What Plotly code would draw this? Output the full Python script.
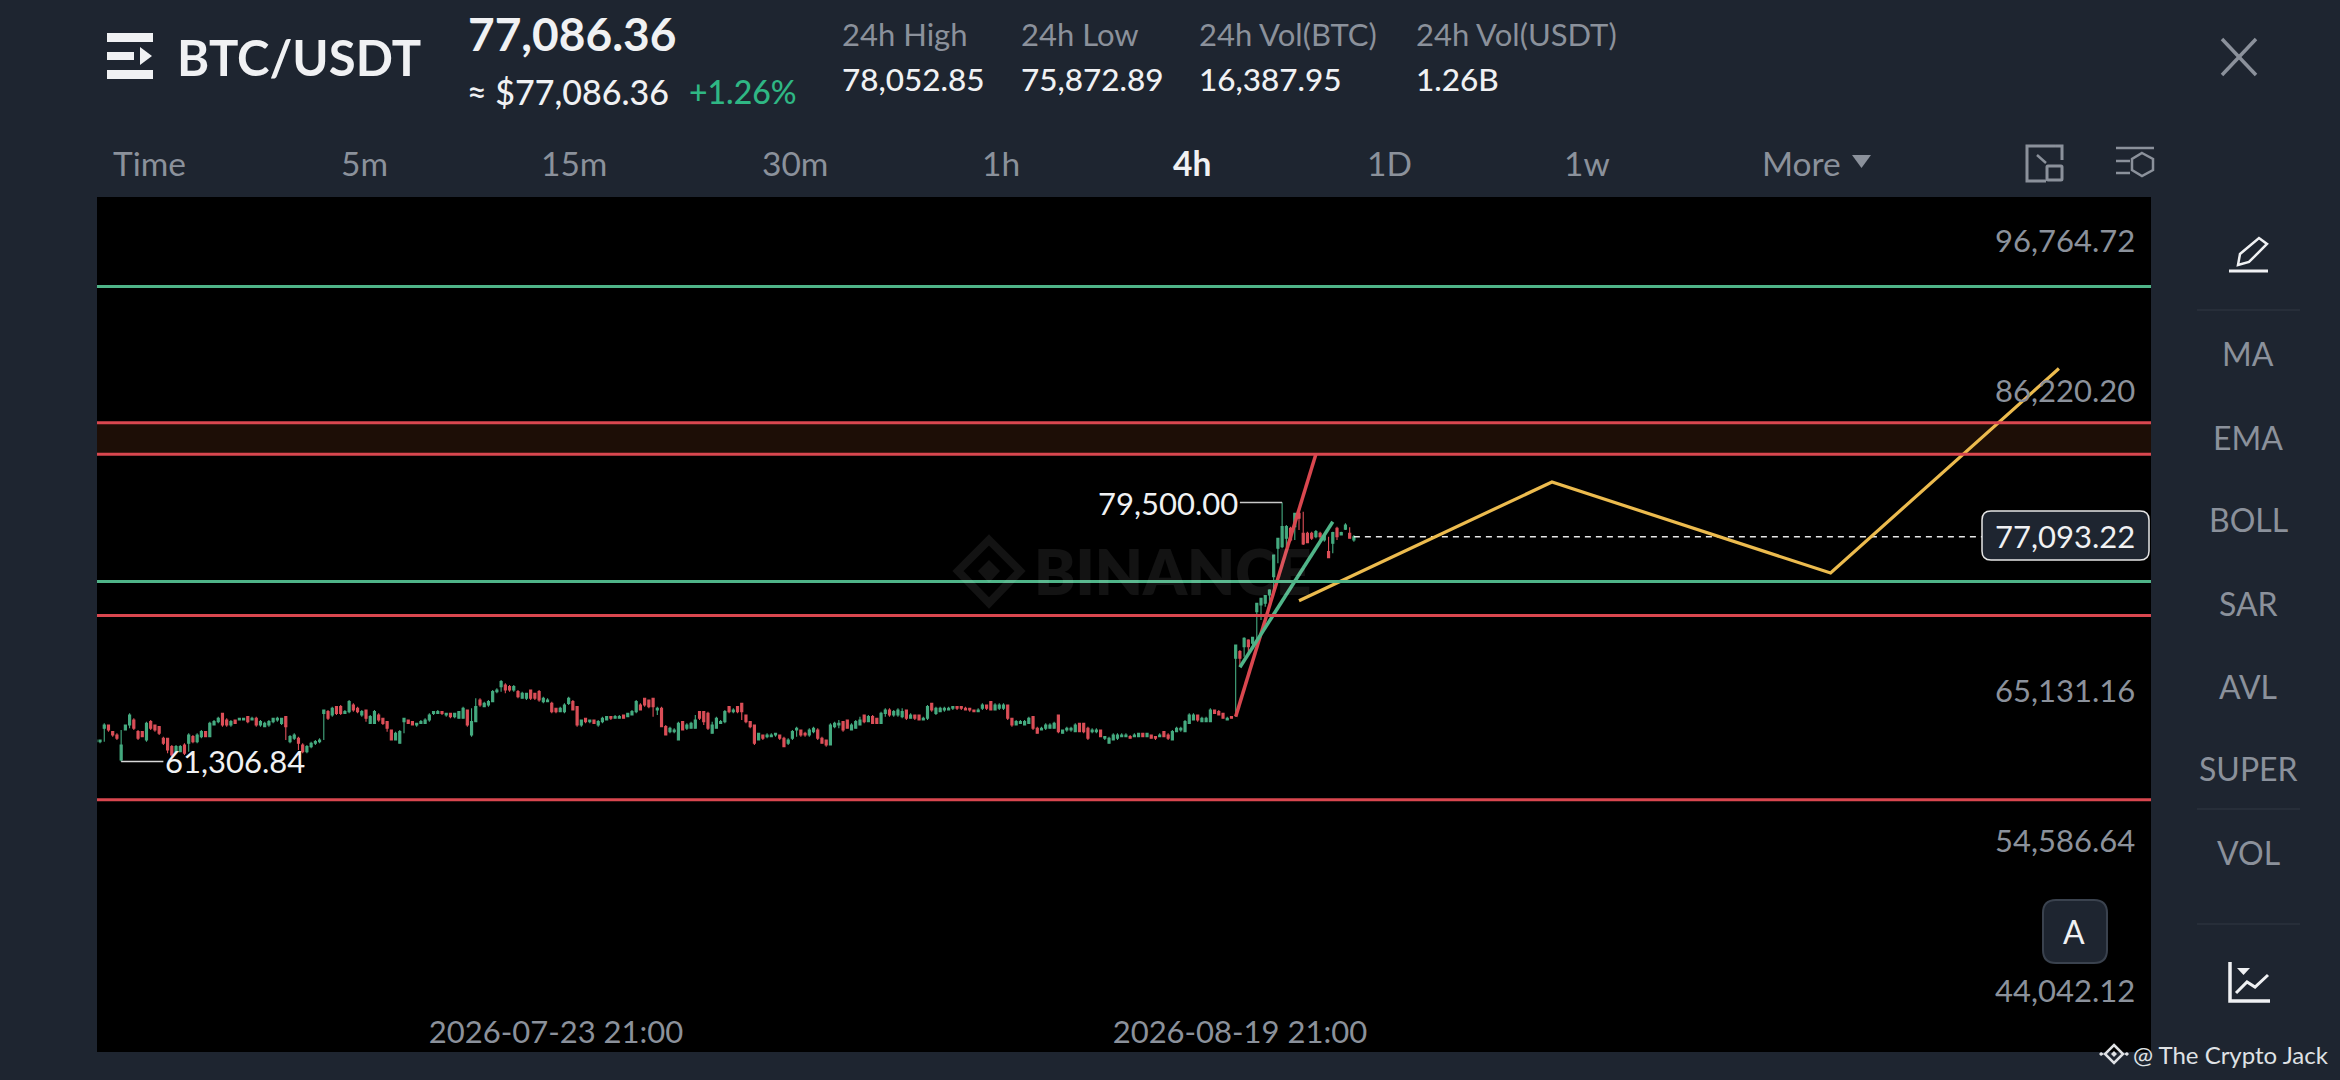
import pandas as pd
import plotly.graph_objects as go

W, H = 2340, 1080
BG = "#1e2530"
GREY = "#8b919b"
WHITE = "#f0f1f3"
UP = "#45ab80"
DOWN = "#dc4f58"
FONT = "Lato"

highs = [62811,62811,63982,63865,63397,63280,63514,63865,64685,64334,
63514,63397,64100,64217,63865,63748,63045,62928,62460,62460,
62460,62577,63280,63162,63280,63514,63397,64100,64217,64451,
64685,64334,64217,64217,64334,64334,64451,64451,64451,64217,
64100,64217,64334,64451,64334,64451,63162,63280,63045,62577,
62460,62694,62811,62928,64920,64920,65154,65154,65271,64920,
65622,65388,65154,64920,64920,64568,64920,64685,64334,64100,
63514,63397,63514,64334,64217,64100,63982,64217,64334,64685,
64802,64920,64802,64685,64685,64685,64802,65154,64920,65037,
65740,65740,65505,65622,66325,66443,67028,66794,66677,66677,
66325,66208,66091,66325,66091,66325,65857,65740,65505,65037,
65154,65388,65857,65622,65154,64217,64334,64217,64217,64217,64451,64451,
64451,64568,64568,64568,64685,64920,65622,65388,65740,65622,
65740,65154,65154,63865,63748,63631,64100,64100,63982,64100,
64568,64802,64802,64802,64100,64451,64217,64920,65154,65037,
65154,65388,64568,64100,63865,63280,63162,63280,63280,63280,
63162,63045,62928,63514,63748,63514,63397,63631,63748,63631,
63045,62811,63982,64100,64217,64100,64217,63982,64217,64451,
64568,64568,64568,64334,64802,65037,65037,64920,65037,65037,
64920,64685,64568,64568,64451,65271,65388,65154,65154,65154,
65154,65154,65154,65154,65154,65037,64920,65037,65388,65271,
65505,65388,65388,65388,65271,64334,64217,64217,64217,64451,
64451,63748,63748,63982,63982,64100,64568,63514,63748,63748,
63982,63982,63982,63748,63631,63631,63514,63045,63045,63280,
63280,63280,63280,63162,63280,63280,63280,63280,63162,63045,
63280,63397,63280,63514,63748,63748,64217,64685,64685,64568,
64451,64451,65037,64920,64920,64685,64451,64451,
69491,69139,70030,69889,70030,72466,72771,72958,73403,75817,
76988,79500,77925,77808,78792,78863,78863,77457,77457,77574,
77457,77223,77105,77457,77808,77457,78043,77762,77223]

lows = [62577,62577,62694,63397,63045,62811,61306.84,63514,63631,63514,
62811,63045,62694,63514,63397,63162,62460,61874,61640,61991,
61991,61757,61991,62577,62577,62928,63045,63045,63865,63982,
63748,63748,63748,63982,64217,64217,63982,64217,63748,63748,
63748,63748,63982,64100,63865,62811,62577,62811,62108,61874,
61874,62225,62460,62577,62811,64217,64451,64568,64568,64685,
64685,64802,64685,64451,64100,63982,63982,64100,63865,63397,
62811,62811,62577,63280,63982,63865,63748,63982,63982,64100,
64568,64685,64568,64451,64334,64334,64334,64334,63748,63045,
64100,65154,65154,65154,65505,66091,66208,66091,66208,66208,
65740,65740,65622,65622,65622,65505,65388,65505,64685,64685,
64802,64685,65271,64920,63748,63748,63982,63982,63982,63748,63982,64217,
64217,64334,64334,64334,64451,64568,64685,64920,65154,65037,
64451,64568,63748,63162,63280,63280,62811,63514,63514,63631,
63631,64217,63865,63514,63280,63631,63982,63982,64685,64685,
64685,64217,63982,63631,62460,62811,62811,62928,63045,63045,
62811,62342,62460,62811,63045,63045,63045,63045,63280,62811,
62577,62342,62460,63631,63631,63397,63631,63514,63631,63865,
63982,64100,63982,63982,63982,64451,64451,64451,64451,64334,
64217,64334,64217,64217,64217,64217,64802,64568,64802,64802,
64920,64920,64920,64920,64920,64802,64802,64802,64920,64920,
64920,64920,64920,64920,64217,63748,63865,63982,63865,63982,
63514,63280,63514,63514,63631,63631,63280,63280,63397,63397,
63397,63397,63280,62811,63280,63280,63045,62811,62577,62811,
62811,63045,63045,62928,63045,63045,63045,63045,62928,62811,
63045,63045,62811,62811,63397,63397,63397,63982,64217,64100,
64100,64100,64100,64685,64568,64334,64217,64334,
64453,67968,68670,68905,69256,69374,71248,72185,72536,73122,
75231,76285,76402,76754,76871,77574,76520,76637,76871,76988,
76871,76754,75583,75934,76871,77223,77574,76988,76754]

opens = [62694,62694,63631,63865,63397,63162,61405,63514,63865,64217,
63397,63397,62811,64100,63865,63748,62928,62928,62342,61991,
61991,62460,62577,63045,62694,63045,63397,63045,63865,64100,
64685,64217,63865,64217,64217,64217,64451,64217,64334,63865,
63748,63865,64100,64217,63982,64451,62694,62928,62928,62460,
61991,62342,62577,62694,64685,64802,64568,65154,65154,64685,
64802,65271,65037,64568,64920,63982,63982,64568,64334,64100,
63514,62811,62577,64100,64217,64100,63865,63982,63982,64217,
64685,64685,64802,64568,64685,64451,64334,64334,64920,63162,
64100,65622,65154,65271,65505,66208,66560,66677,66560,66325,
66208,65740,65740,66325,66091,66208,65505,65505,65388,65037,
64802,64802,65388,65505,65154,63865,64334,64100,64217,63865,64100,64217,
64451,64334,64334,64568,64451,64568,64802,65271,65740,65622,
65740,64920,65037,63748,63397,63397,62811,64100,63631,63631,
63631,64802,64802,64685,63280,63631,63982,64100,65154,64802,
65154,65388,64568,64100,63865,62811,63162,63045,63045,63162,
63162,62928,62577,62928,63514,63514,63280,63162,63397,63514,
62928,62811,62460,63748,63865,64100,64217,63514,63631,63865,
64568,64100,64451,64334,63982,64685,64920,64568,64568,64451,
64920,64334,64568,64568,64217,64334,65388,64685,64802,64920,
64920,65037,65154,65154,65037,65037,64920,64802,65037,65271,
65505,64920,65037,65037,65271,64334,63865,63982,63865,63982,
64451,63631,63514,63631,63631,63631,64568,63280,63514,63514,
63397,63982,63982,63631,63397,63397,63514,62928,62577,62811,
62928,63045,63045,63045,63045,63045,63280,63045,63162,63045,
63045,63397,63162,62811,63397,63514,63397,63982,64217,64568,
64100,64100,64100,64920,64802,64685,64217,64451,
68553,69022,69374,69842,69608,71834,72302,72420,73005,74294,
76285,76402,76988,77691,77808,78745,77340,77340,77340,77105,
77340,76871,76051,76637,77691,77223,77621,77340,76871]

closes = [62811,62811,63865,63514,63162,62928,62460,63865,64568,63631,
62928,63045,63982,63631,63514,63280,62577,62108,61757,62342,
62342,61874,63162,62694,63162,63397,63045,63982,64100,64334,
63865,63865,64100,63982,64334,64334,64100,64334,63865,64100,
63982,64100,64334,64334,64334,63748,63045,63162,62577,61991,
62342,62577,62694,62811,64920,64334,65037,64685,64685,64802,
65505,64920,64802,64802,64334,64451,64802,64217,63982,63631,
62811,63280,63397,64334,63982,63865,63982,64100,64217,64568,
64802,64802,64685,64685,64451,64685,64802,65037,63865,64100,
65154,65271,65388,65505,66208,66325,66911,66325,66325,66560,
65857,66091,66091,65740,65740,65622,65740,65622,64802,64802,
65037,65271,65740,64920,63865,64217,64100,64217,63982,64100,64334,64451,
64334,64451,64451,64334,64685,64802,65505,64920,65271,65154,
65154,65037,63748,63162,63631,63514,63982,63514,63865,63982,
64217,64334,64100,63631,63865,64334,64100,64802,64802,64920,
64802,64802,64100,63748,62577,63280,62928,63162,63162,63280,
62928,62342,62811,63397,63631,63162,63162,63514,63631,62928,
62577,62460,63865,63982,63982,63514,63631,63865,64100,64217,
64100,64451,63982,63982,64685,64920,64568,64802,64920,64802,
64334,64568,64334,64217,64334,65154,64920,65037,65037,65037,
65037,65154,65037,65037,64920,64920,64802,64920,65271,65037,
64920,65271,65271,65271,64334,63865,64100,64100,64100,64334,
63631,63280,63631,63865,63865,63982,63397,63514,63631,63631,
63865,63397,63397,62928,63514,63514,63045,63045,62928,63162,
63162,63162,63162,62928,63162,63280,63045,63280,62928,62928,
63162,63045,62928,63397,63631,63631,64100,64568,64568,64217,
64334,64334,64920,64685,64568,64334,64334,64334,
69491,68553,69959,69374,70030,72420,72771,72958,73357,75817,
76988,77808,77808,76871,78745,78394,76590,76684,76988,77457,
77105,77105,75630,77387,77105,77387,77925,76988,77093.22]

BREAKOUT_INDEX = 270
BREAKOUT_DATE = "2026-08-19 17:00"
dates = pd.date_range(pd.Timestamp(BREAKOUT_DATE) - pd.Timedelta(hours=4 * BREAKOUT_INDEX),
                      periods=len(closes), freq="4h")

axis_dates = ["2026-07-23 21:00", "2026-08-19 21:00"]
axis_date_labels = ["2026-07-23 21:00", "2026-08-19 21:00"]
price_ticks = [96764.72, 86220.20, 65131.16, 54586.64, 44042.12]
price_labels = ["96,764.72", "86,220.20", "65,131.16", "54,586.64", "44,042.12"]

green_levels = [94698, 73953]
red_levels = [85116, 82901, 71562, 58613]
red_line_x = ["2026-08-19 17:00", "2026-08-22 21:00"]
red_line_y = [64453, 82901]
green_line_x = ["2026-08-19 21:00", "2026-08-23 13:00"]
green_line_y = [67920, 78156]
forecast_x = ["2026-08-22 05:00", "2026-09-01 04:40", "2026-09-12 04:40", "2026-09-21 05:00"]
forecast_y = [72602, 80947, 74550, 88926]
LAST_PRICE = 77093.22
last_line_x = [dates[-1], "2026-09-18 04:00"]
PEAK = 79500.00
TROUGH = 61306.84


def X(px):
    return px / W


def Y(py):
    return 1 - py / H


fig = go.Figure()
fig.add_trace(go.Candlestick(
    x=dates, open=opens, high=highs, low=lows, close=closes,
    increasing=dict(line=dict(color=UP, width=1.1), fillcolor=UP),
    decreasing=dict(line=dict(color=DOWN, width=1.1), fillcolor=DOWN),
    whiskerwidth=0, showlegend=False, hoverinfo="skip"))

fig.add_trace(go.Scatter(x=last_line_x, y=[LAST_PRICE, LAST_PRICE], mode="lines", showlegend=False,
                         hoverinfo="skip", line=dict(color="#e8e8e8", width=1.5, dash="6px,5px")))
for xs, ys, col, w in [
    (red_line_x, red_line_y, "#d9474f", 3.5),
    (green_line_x, green_line_y, "#4fb488", 3.5),
    (forecast_x, forecast_y, "#ecbb4e", 3.2),
    ([dates[281], "2026-08-19 21:00"], [PEAK, PEAK], "#c8c8c8", 1.5),
    ([dates[6], dates[16]], [TROUGH, TROUGH], "#d8d8d8", 1.5),
]:
    fig.add_trace(go.Scatter(x=xs, y=ys, mode="lines", showlegend=False, hoverinfo="skip",
                             line=dict(color=col, width=w)))

shapes = []
shapes.append(dict(type="rect", xref="x domain", yref="y", x0=0, x1=1, y0=red_levels[1], y1=red_levels[0],
                   fillcolor="#1d0e06", line_width=0, layer="below"))
for v in green_levels:
    shapes.append(dict(type="line", xref="x domain", yref="y", x0=0, x1=1, y0=v, y1=v,
                       line=dict(color="#4fb488", width=3)))
for v in red_levels:
    shapes.append(dict(type="line", xref="x domain", yref="y", x0=0, x1=1, y0=v, y1=v,
                       line=dict(color="#d9474f", width=3)))


def rect(x0, y0, x1, y1, col):
    shapes.append(dict(type="rect", xref="paper", yref="paper", x0=X(x0), x1=X(x1), y0=Y(y0), y1=Y(y1),
                       fillcolor=col, line_width=0))


def poly(pts, col=None, fill=None, width=3, close=False):
    p = "M " + " L ".join(f"{X(a):.5f} {Y(b):.5f}" for a, b in pts) + (" Z" if close else "")
    shapes.append(dict(type="path", xref="paper", yref="paper", path=p, fillcolor=fill,
                       line=dict(color=col, width=width) if col else dict(width=0)))


def rrect(x0, y0, x1, y1, r, fill, border, width=1.5):
    rx, ry = r / W, r / H
    a, b, c, d = X(x0), X(x1), Y(y0), Y(y1)
    p = (f"M {a+rx:.5f} {c:.5f} L {b-rx:.5f} {c:.5f} Q {b:.5f} {c:.5f} {b:.5f} {c-ry:.5f} "
         f"L {b:.5f} {d+ry:.5f} Q {b:.5f} {d:.5f} {b-rx:.5f} {d:.5f} L {a+rx:.5f} {d:.5f} "
         f"Q {a:.5f} {d:.5f} {a:.5f} {d+ry:.5f} L {a:.5f} {c-ry:.5f} Q {a:.5f} {c:.5f} {a+rx:.5f} {c:.5f} Z")
    shapes.append(dict(type="path", xref="paper", yref="paper", path=p, fillcolor=fill,
                       line=dict(color=border, width=width)))


# header menu icon
rect(107, 33, 153, 42, WHITE)
rect(107, 52, 134, 60, WHITE)
rect(107, 70, 153, 79, WHITE)
poly([(140, 47), (152, 56), (140, 65)], fill=WHITE, close=True)
# close icon
poly([(2222, 39), (2256, 75)], col=GREY, width=3.5)
poly([(2256, 39), (2222, 75)], col=GREY, width=3.5)
# toolbar triangle
poly([(1852, 155), (1871, 155), (1861.5, 168)], fill=GREY, close=True)
# resize icon
poly([(2056, 146), (2027, 146), (2027, 181), (2046, 181)], col=GREY, width=3)
poly([(2056, 146), (2062, 146), (2062, 160)], col=GREY, width=3)
rrect(2047, 166, 2062, 180, 1, None, GREY, 3)
poly([(2037, 155), (2046, 163)], col=GREY, width=2.5)
# settings icon
poly([(2116, 148), (2154, 148)], col=GREY, width=2.5)
poly([(2116, 161), (2130, 161)], col=GREY, width=2.5)
poly([(2116, 173), (2130, 173)], col=GREY, width=2.5)
poly([(2142, 153), (2153, 159), (2153, 170), (2142, 176), (2132, 170), (2132, 159)], col=GREY, width=2.5, close=True)
# side separators
for yy in (310, 809, 924):
    poly([(2197, yy), (2300, yy)], col="#2b323d", width=1.5)
# pen icon
poly([(2238, 265), (2240, 254), (2259, 238), (2267, 244), (2249, 262)], col=WHITE, width=2.5, close=True)
poly([(2229, 271), (2268, 271)], col=WHITE, width=3)
# chart icon
poly([(2230, 962), (2230, 1001), (2270, 1001)], col=WHITE, width=3.5)
poly([(2236, 993), (2247, 982), (2255, 987), (2268, 975)], col=WHITE, width=3)
poly([(2237, 968), (2250, 968), (2243.5, 975)], fill=WHITE, close=True)
# last-price box, A button
rrect(1982, 511, 2149, 560, 9, "#1e2530", "#e6e6e6", 1.5)
rrect(2043, 900, 2107, 963, 13, "#1e2530", "#3a424e", 2)
# watermark diamonds
wm = "rgba(255,255,255,0.075)"
poly([(989, 540), (1020, 571), (989, 603), (958, 571)], col=wm, width=8, close=True)
poly([(989, 560), (1000, 571), (989, 583), (978, 571)], fill=wm, close=True)
# footer diamond
poly([(2114, 1045), (2123, 1054), (2114, 1063), (2105, 1054)], col="#dfe1e4", width=2.5, close=True)
poly([(2114, 1051), (2117, 1054), (2114, 1057), (2111, 1054)], fill="#dfe1e4", close=True)
poly([(2101, 1052), (2104, 1054), (2101, 1056), (2099, 1054)], fill="#dfe1e4", close=True)
poly([(2127, 1052), (2129, 1054), (2127, 1056), (2124, 1054)], fill="#dfe1e4", close=True)

anns = []


def txt(x, y, text, size, color=GREY, anchor="left", weight=None, family=FONT):
    font = dict(family=family, size=size, color=color)
    if weight:
        font["weight"] = weight
    anns.append(dict(xref="paper", yref="paper", x=X(x), y=Y(y), text=text, showarrow=False,
                     xanchor=anchor, yanchor="middle", font=font))


txt(175, 57, "BTC/USDT", 49, WHITE, weight=700)
txt(466, 34, "77,086.36", 46, WHITE, weight=700)
txt(465, 91, "≈ $77,086.36", 34, WHITE, weight=500)
txt(687, 91, "+1.26%", 32, "#2fb784", weight=500)
for x, head, val in [(840, "24h High", "78,052.85"), (1019, "24h Low", "75,872.89"),
                     (1197, "24h Vol(BTC)", "16,387.95"), (1414, "24h Vol(USDT)", "1.26B")]:
    txt(x, 34, head, 31, GREY)
    txt(x, 79, val, 31.5, WHITE, weight=500)
for x, lab in [(149, "Time"), (364, "5m"), (574, "15m"), (795, "30m"), (1001, "1h"),
               (1389, "1D"), (1587, "1w")]:
    txt(x, 163, lab, 33.5, GREY, "center")
txt(1192, 163, "4h", 33.5, WHITE, "center", weight=700)
txt(1801, 163, "More", 33.5, GREY, "center")
for yy, lab in [(354, "MA"), (437, "EMA"), (519, "BOLL"), (603, "SAR"), (686, "AVL"), (768, "SUPER"), (852, "VOL")]:
    txt(2248, yy, lab, 32, GREY, "center")
txt(2074, 931, "A", 32, WHITE, "center")
txt(2131, 1054, "@ The Crypto Jack", 24, "#dfe1e4")
txt(1032, 571, "BINANCE", 62, wm, weight=800)
txt(2137, 536, "77,093.22", 31, WHITE, "right")
for v, lab in zip(price_ticks, price_labels):
    anns.append(dict(xref="paper", yref="y", x=X(2137), y=v, yshift=17, text=lab, showarrow=False,
                     xanchor="right", yanchor="middle", font=dict(family=FONT, size=31, color=GREY)))
anns.append(dict(x=axis_dates[1], y=PEAK, xref="x", yref="y", text="79,500.00", showarrow=False,
                 xanchor="right", yanchor="middle", font=dict(family=FONT, size=31, color=WHITE)))
anns.append(dict(x=dates[16], y=TROUGH, xref="x", yref="y", text="61,306.84", showarrow=False,
                 xanchor="left", yanchor="middle", font=dict(family=FONT, size=31, color=WHITE)))

fig.update_layout(
    width=W, height=H, margin=dict(l=0, r=0, t=0, b=0, pad=0), autosize=False,
    paper_bgcolor=BG, plot_bgcolor="#000000", font=dict(family=FONT),
    showlegend=False, shapes=shapes, annotations=anns, dragmode=False,
    xaxis=dict(domain=[X(97), X(2151)], range=["2026-07-05 18:07", "2026-09-24 20:15"], type="date",
               rangeslider=dict(visible=False), showgrid=False, zeroline=False, showline=False,
               tickmode="array", tickvals=axis_dates, ticktext=axis_date_labels, ticks="",
               ticklabelposition="inside", tickfont=dict(family=FONT, size=31, color=GREY)),
    yaxis=dict(domain=[Y(1052), Y(197)], range=[40876.2, 100982.7], side="right", showgrid=False,
               zeroline=False, showline=False, tickmode="array", tickvals=price_ticks,
               ticks="", showticklabels=False),
)

fig.write_html("out.html", config={"displayModeBar": False},
               post_script="document.body.style.margin='0';document.body.style.background='#1e2530';")
